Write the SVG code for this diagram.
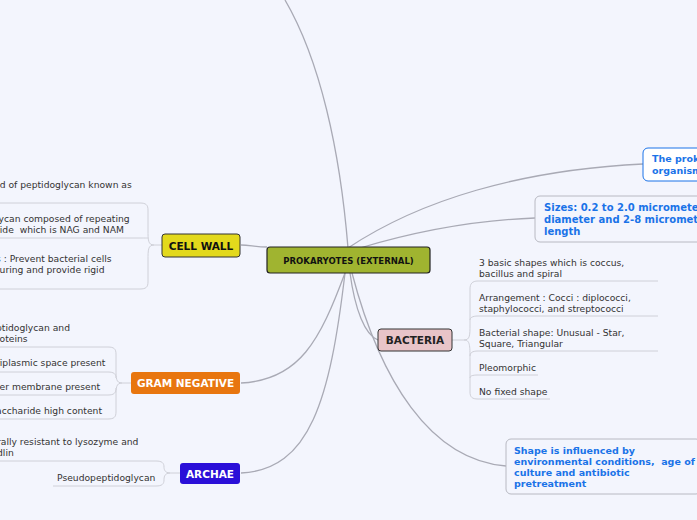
<svg xmlns="http://www.w3.org/2000/svg" width="697" height="520" viewBox="0 0 697 520">
<style>
.c{fill:none;stroke:#a9aab5;stroke-width:1.3}
.s{fill:none;stroke:#cfd0d8;stroke-width:1}
.t{font-family:"DejaVu Sans",Verdana,sans-serif;font-size:9.2px;fill:#333}
.b{font-family:"DejaVu Sans",Verdana,sans-serif;font-weight:bold;font-size:10.5px}
.bl{font-family:"DejaVu Sans",Verdana,sans-serif;font-weight:bold;font-size:9.5px;fill:#1a73e8}
</style>
<rect width="697" height="520" fill="#f3f5fd"/>
<g id="connectors">
<path class="c" d="M348 248 C340 150 320 60 285 0"/>
<path class="c" d="M348 248 C420 200 520 170 643 164"/>
<path class="c" d="M360 248 C420 230 480 220 535 218"/>
<path class="c" d="M267 247 C255 247 250 245 241 245"/>
<path class="c" d="M345 273 C320 340 300 380 241 383"/>
<path class="c" d="M345 273 C330 400 310 470 241 473"/>
<path class="c" d="M350 273 C355 310 365 335 378 340"/>
<path class="c" d="M352 273 C380 380 430 460 506 466"/>
<path class="s" d="M162 245 H154 M154 245 C148 245 148 240 148 230 V210 C148 205 146 203 140 203 H0 M154 245 C148 245 148 250 148 260 V282 C148 287 146 289 140 289 H0 M148 238 C148 238 146 238 140 238 H0"/>
<path class="s" d="M131 383 H122 C116 383 116 378 116 370 V354 C116 349 114 347 108 347 H0 M122 383 C116 383 116 388 116 396 V412 C116 417 114 419 108 419 H0 M116 378 C116 374 114 372 108 372 H0 M116 388 C116 393 114 395 108 395 H0"/>
<path class="s" d="M180 473 H170 C164 473 164 468 164 467 C164 463 162 461 156 461 H0 M170 473 C164 473 164 478 164 480 C164 484 162 486 156 486 H53"/>
<path class="s" d="M452 340 H464 M464 340 C470 340 470 335 470 325 V289 C470 284 472 281 478 281 H658 M470 320 C470 318 472 316 478 316 H658 M470 356 C470 353 472 351 478 351 H658 M464 340 C470 340 470 345 470 360 V392 C470 397 472 399 478 399 H550 M470 378 C470 376 472 375 478 375 H538"/>
</g>
<g id="center"><rect x="267" y="247" width="163" height="26" rx="3" fill="#a0b430" stroke="#222" stroke-width="1.2"/><text x="348.5" y="264" text-anchor="middle" class="b" style="font-size:8.5px" fill="#111">PROKARYOTES (EXTERNAL)</text></g>
<g id="cellwall"><rect x="162" y="234" width="78" height="23" rx="3" fill="#e3d91c" stroke="#333"/><text x="201" y="249.5" text-anchor="middle" class="b" fill="#111">CELL WALL</text>
<text class="t" x="-6" y="188">ed of peptidoglycan known as</text>
<text class="t" x="-4" y="222">lycan composed of repeating</text><text class="t" x="-4" y="233" xml:space="preserve">ride  which is NAG and NAM</text>
<text class="t" x="-4" y="262">s : Prevent bacterial cells</text><text class="t" x="-4" y="273">turing and provide rigid</text></g>
<g id="gramneg"><rect x="131" y="372" width="109" height="22" rx="3" fill="#e8760f"/><text x="185.5" y="387" text-anchor="middle" class="b" fill="#fff">GRAM NEGATIVE</text>
<text class="t" x="-4" y="331">ptidoglycan and</text><text class="t" x="-4" y="342">roteins</text>
<text class="t" x="-4" y="366">riplasmic space present</text>
<text class="t" x="-4" y="390">ter membrane present</text>
<text class="t" x="-4" y="414">accharide high content</text></g>
<g id="archae"><rect x="180" y="463" width="60" height="21" rx="3" fill="#2a0fd8"/><text x="210" y="477.5" text-anchor="middle" class="b" fill="#fff">ARCHAE</text>
<text class="t" x="-3" y="445">rally resistant to lysozyme and</text><text class="t" x="-3" y="456">dlin</text>
<text class="t" x="57" y="481">Pseudopeptidoglycan</text></g>
<g id="bacteria"><rect x="378" y="329" width="74" height="22" rx="3" fill="#e8c4c8" stroke="#333"/><text x="415" y="344" text-anchor="middle" class="b" fill="#222">BACTERIA</text>
<text class="t" x="479" y="266">3 basic shapes which is coccus,</text><text class="t" x="479" y="277">bacillus and spiral</text>
<text class="t" x="479" y="301">Arrangement : Cocci : diplococci,</text><text class="t" x="479" y="312">staphylococci, and streptococci</text>
<text class="t" x="479" y="336">Bacterial shape: Unusual - Star,</text><text class="t" x="479" y="347">Square, Triangular</text>
<text class="t" x="479" y="371">Pleomorphic</text>
<text class="t" x="479" y="395">No fixed shape</text></g>
<g id="prok"><rect x="643" y="148" width="70" height="33" rx="5" fill="#fff" stroke="#1a73e8"/><text class="bl" x="652" y="162">The prokaryotic</text><text class="bl" x="652" y="174">organisms</text></g>
<g id="sizes"><rect x="535" y="196" width="175" height="46" rx="5" fill="#f3f5fd" stroke="#b8b9c2"/><text class="bl" style="font-size:10px" x="544" y="211">Sizes: 0.2 to 2.0 micrometers in</text><text class="bl" style="font-size:10px" x="544" y="223">diameter and 2-8 micrometers in</text><text class="bl" style="font-size:10px" x="544" y="235">length</text></g>
<g id="shape"><rect x="506" y="439" width="195" height="55" rx="5" fill="#f3f5fd" stroke="#b8b9c2"/><text class="bl" x="514" y="454">Shape is influenced by</text><text class="bl" x="514" y="465" xml:space="preserve">environmental conditions,  age of</text><text class="bl" x="514" y="476">culture and antibiotic</text><text class="bl" x="514" y="487">pretreatment</text></g>
</svg>
